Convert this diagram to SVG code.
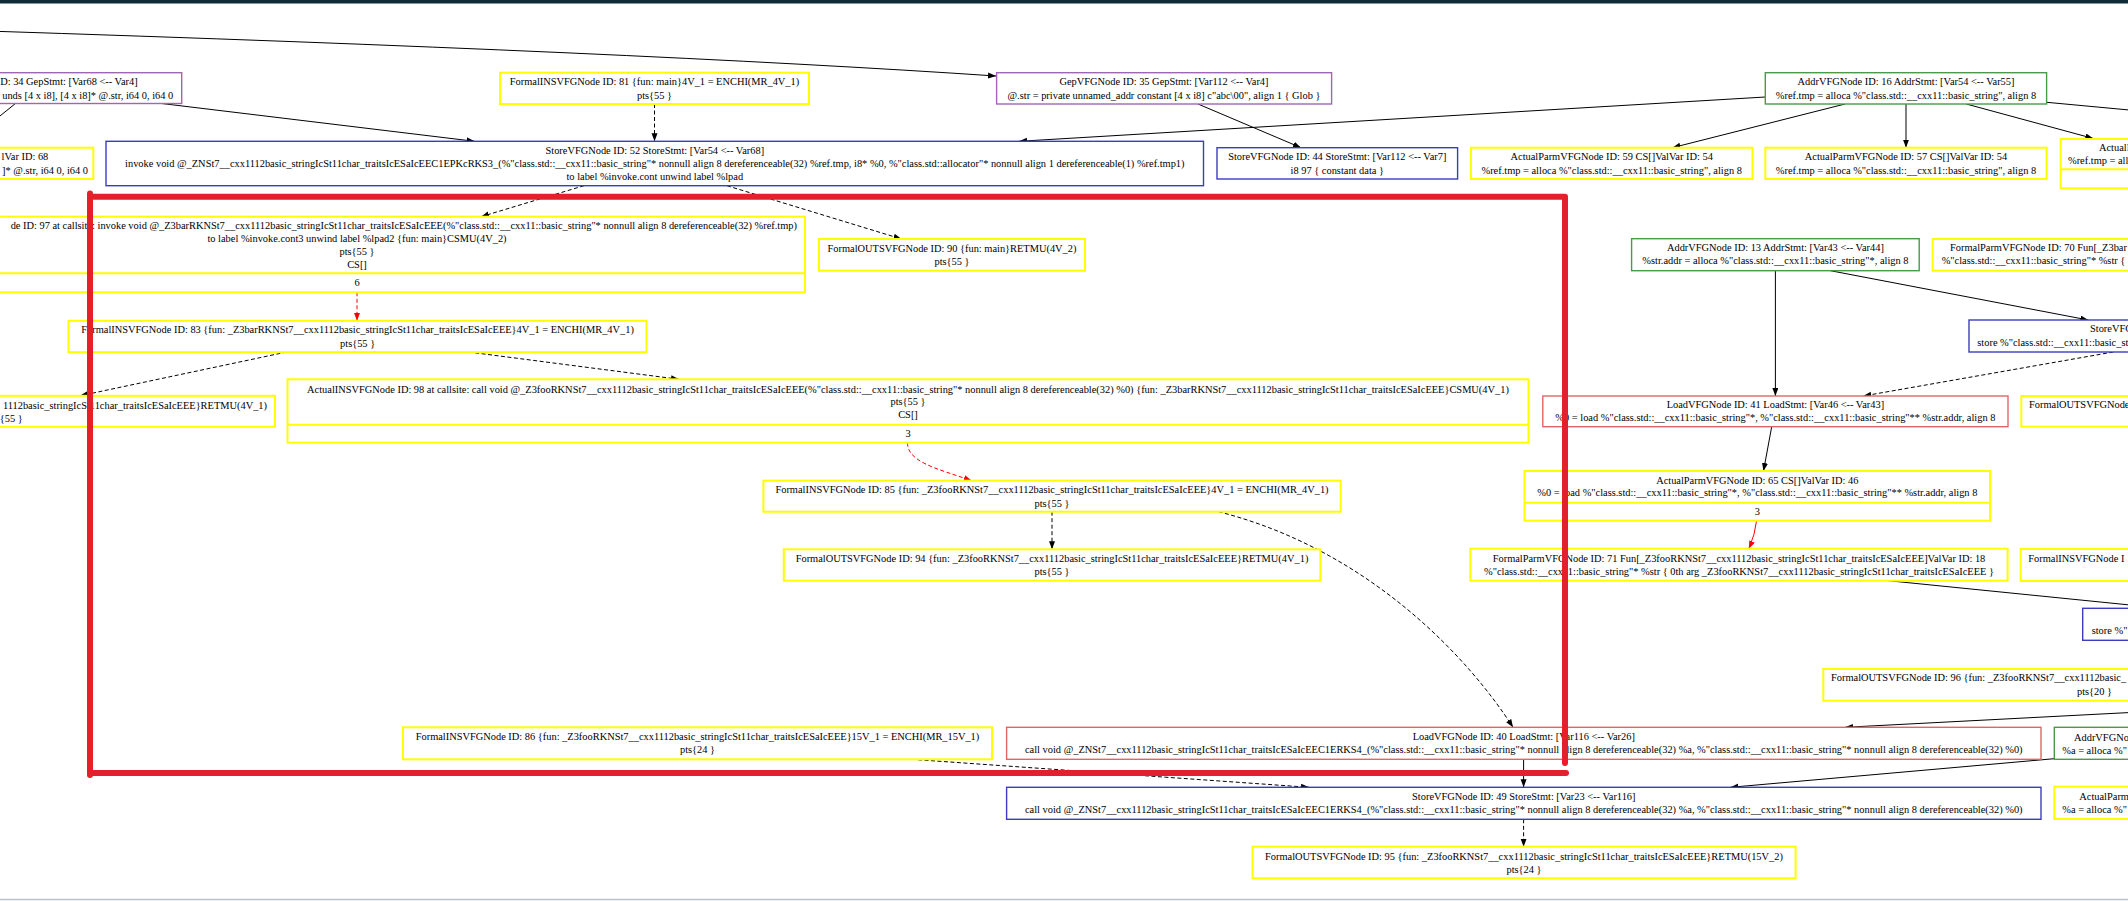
<svg xmlns="http://www.w3.org/2000/svg" width="2128" height="901" viewBox="0 0 2128 901">
<style>
text{font-family:"Liberation Serif","Times New Roman",serif;font-size:10.4px;fill:#000}
.m{text-anchor:middle}.e{text-anchor:end}
rect.y{stroke:#ffff00;stroke-width:2;fill:#fff}
rect.b{stroke:#3c3cc0;stroke-width:1.4;fill:#fff}
rect.p{stroke:#a065b5;stroke-width:1.4;fill:#fff}
rect.g{stroke:#4a9a4a;stroke-width:1.4;fill:#fff}
rect.r{stroke:#e06666;stroke-width:1.4;fill:#fff}
line.y{stroke:#ffff00;stroke-width:2}
.ed{stroke:#000;stroke-width:1;fill:none}
.da{stroke-dasharray:4,2.5}
.rd{stroke:#ff0000}
</style>
<defs>
<marker id="ak" markerUnits="userSpaceOnUse" markerWidth="9" markerHeight="7" refX="8" refY="3" orient="auto"><path d="M0,0 L8,3 L0,6 Z" fill="#000"/></marker>
<marker id="ar" markerUnits="userSpaceOnUse" markerWidth="9" markerHeight="7" refX="8" refY="3" orient="auto"><path d="M0,0 L8,3 L0,6 Z" fill="#ff0000"/></marker>
</defs>
<rect x="0" y="0" width="2128" height="901" fill="#fff"/>
<rect x="0" y="0" width="2128" height="3.5" fill="#0d2c37"/>
<line x1="0" y1="899.5" x2="2128" y2="899.5" stroke="#b8c4cc" stroke-width="1.5"/>

<g id="edges">
<path class="ed" d="M-20,30.8 Q640,52 996,76" marker-end="url(#ak)"/>
<path class="ed" d="M160,103.3 L474.5,141.3" marker-end="url(#ak)"/>
<path class="ed" d="M15.7,103.3 L-10,124"/>
<path class="ed da" d="M654.5,104 L654.5,141.3" marker-end="url(#ak)"/>
<path class="ed" d="M1198,104 L1301,147.7" marker-end="url(#ak)"/>
<path class="ed" d="M1765.3,97 L1019,141.3" marker-end="url(#ak)"/>
<path class="ed" d="M1845,104 L1672.4,147.7" marker-end="url(#ak)"/>
<path class="ed" d="M1906,104 L1906,147.7" marker-end="url(#ak)"/>
<path class="ed" d="M1966.3,104 L2093.3,138.5" marker-end="url(#ak)"/>
<path class="ed" d="M2046.7,102.3 L2140,111"/>
<path class="ed da" d="M584,185.7 L481,216.7" marker-end="url(#ak)"/>
<path class="ed da" d="M727,185.7 L901.5,239" marker-end="url(#ak)"/>
<path class="ed da rd" d="M357,292.3 L357,320.8" marker-end="url(#ar)"/>
<path class="ed da" d="M286.7,352 L80,395.8" marker-end="url(#ak)"/>
<path class="ed da" d="M468.7,352 L679,379.3" marker-end="url(#ak)"/>
<path class="ed da rd" d="M907.4,442.7 C908,462 935,468 971.7,480.7" marker-end="url(#ar)"/>
<path class="ed da" d="M1052,511.7 L1052,549.3" marker-end="url(#ak)"/>
<path class="ed da" d="M1218.5,511.7 C1370,550 1470,660 1513,727.3" marker-end="url(#ak)"/>
<path class="ed" d="M1523.6,759.3 L1523.6,787.3" marker-end="url(#ak)"/>
<path class="ed da" d="M1523.6,819.3 L1523.6,846.7" marker-end="url(#ak)"/>
<path class="ed da" d="M911.5,759.3 L1309,787.3" marker-end="url(#ak)"/>
<path class="ed" d="M2054.3,758.7 L1730.5,787.3" marker-end="url(#ak)"/>
<path class="ed" d="M2140,712 L1845,727.3" marker-end="url(#ak)"/>
<path class="ed" d="M1888.3,580.7 L2140,606"/>
<path class="ed" d="M1775.4,270.7 L1775.4,396" marker-end="url(#ak)"/>
<path class="ed" d="M1830.4,270.7 L2088.3,320" marker-end="url(#ak)"/>
<path class="ed da" d="M2113.3,352 L1863.3,396" marker-end="url(#ak)"/>
<path class="ed" d="M1771.7,426.7 L1763.5,471" marker-end="url(#ak)"/>
<path class="ed rd" d="M1756.6,520.7 Q1755,535 1748.8,548.7" marker-end="url(#ar)"/>
</g>

<g id="n34">
<rect class="p" x="-200" y="72.7" width="381.7" height="30.8"/>
<text class="e" x="137.7" y="85.2">D: 34 GepStmt: [Var68 &lt;-- Var4]</text>
<text class="e" x="173.3" y="98.5">unds [4 x i8], [4 x i8]* @.str, i64 0, i64 0</text>
</g>
<g id="n68">
<rect class="y" x="-200" y="147.7" width="293.3" height="31.3"/>
<text class="e" x="48.3" y="160.2">lVar ID: 68</text>
<text class="e" x="88" y="173.5">]* @.str, i64 0, i64 0</text>
</g>
<g id="n81">
<rect class="y" x="500" y="72.7" width="309" height="31.3"/>
<text class="m" x="654.5" y="85.2">FormalINSVFGNode ID: 81 {fun: main}4V_1 = ENCHI(MR_4V_1)</text>
<text class="m" x="654.5" y="98.5">pts{55 }</text>
</g>
<g id="n52">
<rect class="b" x="106" y="141.3" width="1097.5" height="44.4"/>
<text class="m" x="654.8" y="154.2">StoreVFGNode ID: 52 StoreStmt: [Var54 &lt;-- Var68]</text>
<text class="m" x="654.8" y="167.2">invoke void @_ZNSt7__cxx1112basic_stringIcSt11char_traitsIcESaIcEEC1EPKcRKS3_(%"class.std::__cxx11::basic_string"* nonnull align 8 dereferenceable(32) %ref.tmp, i8* %0, %"class.std::allocator"* nonnull align 1 dereferenceable(1) %ref.tmp1)</text>
<text class="m" x="654.8" y="179.5">to label %invoke.cont unwind label %lpad</text>
</g>
<g id="n35">
<rect class="p" x="996.6" y="72.7" width="335" height="31.3"/>
<text class="m" x="1164" y="85.2">GepVFGNode ID: 35 GepStmt: [Var112 &lt;-- Var4]</text>
<text class="m" x="1164" y="98.5">@.str = private unnamed_addr constant [4 x i8] c"abc\00", align 1 { Glob }</text>
</g>
<g id="n44">
<rect class="b" x="1217" y="147.7" width="240.6" height="31.3"/>
<text class="m" x="1337.3" y="160.2">StoreVFGNode ID: 44 StoreStmt: [Var112 &lt;-- Var7]</text>
<text class="m" x="1337.3" y="173.5">i8 97 { constant data }</text>
</g>
<g id="n16">
<rect class="g" x="1765.3" y="72.7" width="281.3" height="31.3"/>
<text class="m" x="1906" y="85.2">AddrVFGNode ID: 16 AddrStmt: [Var54 &lt;-- Var55]</text>
<text class="m" x="1906" y="98.5">%ref.tmp = alloca %"class.std::__cxx11::basic_string", align 8</text>
</g>
<g id="n59">
<rect class="y" x="1470.9" y="147.7" width="281.6" height="31.3"/>
<text class="m" x="1611.7" y="160.2">ActualParmVFGNode ID: 59 CS[]ValVar ID: 54</text>
<text class="m" x="1611.7" y="173.5">%ref.tmp = alloca %"class.std::__cxx11::basic_string", align 8</text>
</g>
<g id="n57">
<rect class="y" x="1765.3" y="147.7" width="281.3" height="31.3"/>
<text class="m" x="1906" y="160.2">ActualParmVFGNode ID: 57 CS[]ValVar ID: 54</text>
<text class="m" x="1906" y="173.5">%ref.tmp = alloca %"class.std::__cxx11::basic_string", align 8</text>
</g>
<g id="nActualRight">
<rect class="y" x="2060.7" y="139" width="200" height="49.3"/>
<line class="y" x1="2060.7" y1="169.3" x2="2260" y2="169.3"/>
<text x="2099" y="150.8">ActualP</text>
<text x="2068" y="164.2">%ref.tmp = all</text>
</g>
<g id="n97">
<rect class="y" x="-100" y="216.7" width="905" height="75.6"/>
<line class="y" x1="-100" y1="273.3" x2="805" y2="273.3"/>
<text class="e" x="797" y="229.2">de ID: 97 at callsite: invoke void @_Z3barRKNSt7__cxx1112basic_stringIcSt11char_traitsIcESaIcEEE(%"class.std::__cxx11::basic_string"* nonnull align 8 dereferenceable(32) %ref.tmp)</text>
<text class="m" x="357" y="242.2">to label %invoke.cont3 unwind label %lpad2 {fun: main}CSMU(4V_2)</text>
<text class="m" x="357" y="255.2">pts{55 }</text>
<text class="m" x="357" y="267.5">CS[]</text>
<text class="m" x="357" y="285.8">6</text>
</g>
<g id="n90">
<rect class="y" x="819" y="239" width="266" height="31.7"/>
<text class="m" x="952" y="251.5">FormalOUTSVFGNode ID: 90 {fun: main}RETMU(4V_2)</text>
<text class="m" x="952" y="264.8">pts{55 }</text>
</g>
<g id="n83">
<rect class="y" x="68.5" y="320.8" width="578" height="31.4"/>
<text class="m" x="357.6" y="333.3">FormalINSVFGNode ID: 83 {fun: _Z3barRKNSt7__cxx1112basic_stringIcSt11char_traitsIcESaIcEEE}4V_1 = ENCHI(MR_4V_1)</text>
<text class="m" x="357.6" y="346.6">pts{55 }</text>
</g>
<g id="nOutLeft">
<rect class="y" x="-300" y="395.8" width="575" height="31"/>
<text class="e" x="267" y="408.5">1112basic_stringIcSt11char_traitsIcESaIcEEE}RETMU(4V_1)</text>
<text class="e" x="22.7" y="421.5">{55 }</text>
</g>
<g id="n98">
<rect class="y" x="287.5" y="379.3" width="1241" height="63.4"/>
<line class="y" x1="287.5" y1="424.7" x2="1528.5" y2="424.7"/>
<text class="m" x="908" y="392.5">ActualINSVFGNode ID: 98 at callsite: call void @_Z3fooRKNSt7__cxx1112basic_stringIcSt11char_traitsIcESaIcEEE(%"class.std::__cxx11::basic_string"* nonnull align 8 dereferenceable(32) %0) {fun: _Z3barRKNSt7__cxx1112basic_stringIcSt11char_traitsIcESaIcEEE}CSMU(4V_1)</text>
<text class="m" x="908" y="405.2">pts{55 }</text>
<text class="m" x="908" y="417.5">CS[]</text>
<text class="m" x="908" y="436.8">3</text>
</g>
<g id="n85">
<rect class="y" x="763.4" y="480.7" width="577.3" height="31"/>
<text class="m" x="1052" y="493.2">FormalINSVFGNode ID: 85 {fun: _Z3fooRKNSt7__cxx1112basic_stringIcSt11char_traitsIcESaIcEEE}4V_1 = ENCHI(MR_4V_1)</text>
<text class="m" x="1052" y="506.5">pts{55 }</text>
</g>
<g id="n94">
<rect class="y" x="783.8" y="549.3" width="536.6" height="31.4"/>
<text class="m" x="1052" y="561.8">FormalOUTSVFGNode ID: 94 {fun: _Z3fooRKNSt7__cxx1112basic_stringIcSt11char_traitsIcESaIcEEE}RETMU(4V_1)</text>
<text class="m" x="1052" y="575.1">pts{55 }</text>
</g>
<g id="n40">
<rect class="r" x="1006.6" y="727.3" width="1034.4" height="32"/>
<text class="m" x="1523.8" y="740.2">LoadVFGNode ID: 40 LoadStmt: [Var116 &lt;-- Var26]</text>
<text class="m" x="1523.8" y="753">call void @_ZNSt7__cxx1112basic_stringIcSt11char_traitsIcESaIcEEC1ERKS4_(%"class.std::__cxx11::basic_string"* nonnull align 8 dereferenceable(32) %a, %"class.std::__cxx11::basic_string"* nonnull align 8 dereferenceable(32) %0)</text>
</g>
<g id="n49">
<rect class="b" x="1006.6" y="787.3" width="1034.4" height="32"/>
<text class="m" x="1523.8" y="800.2">StoreVFGNode ID: 49 StoreStmt: [Var23 &lt;-- Var116]</text>
<text class="m" x="1523.8" y="813">call void @_ZNSt7__cxx1112basic_stringIcSt11char_traitsIcESaIcEEC1ERKS4_(%"class.std::__cxx11::basic_string"* nonnull align 8 dereferenceable(32) %a, %"class.std::__cxx11::basic_string"* nonnull align 8 dereferenceable(32) %0)</text>
</g>
<g id="n95">
<rect class="y" x="1252.6" y="846.7" width="543" height="31.6"/>
<text class="m" x="1524" y="859.8">FormalOUTSVFGNode ID: 95 {fun: _Z3fooRKNSt7__cxx1112basic_stringIcSt11char_traitsIcESaIcEEE}RETMU(15V_2)</text>
<text class="m" x="1524" y="872.5">pts{24 }</text>
</g>
<g id="n86">
<rect class="y" x="403" y="727.3" width="589" height="32"/>
<text class="m" x="697.5" y="740.2">FormalINSVFGNode ID: 86 {fun: _Z3fooRKNSt7__cxx1112basic_stringIcSt11char_traitsIcESaIcEEE}15V_1 = ENCHI(MR_15V_1)</text>
<text class="m" x="697.5" y="753">pts{24 }</text>
</g>
<g id="nAddrRight">
<rect class="g" x="2054.3" y="727.3" width="200" height="32"/>
<text x="2074" y="740.8">AddrVFGNo</text>
<text x="2062.3" y="753.5">%a = alloca %"</text>
</g>
<g id="nActualBottomRight">
<rect class="y" x="2054.3" y="786.7" width="200" height="32.3"/>
<text x="2079.3" y="800.2">ActualParm</text>
<text x="2062.3" y="812.8">%a = alloca %"</text>
</g>
<g id="n96">
<rect class="y" x="1823.3" y="669" width="400" height="31.7"/>
<text x="1831" y="680.5">FormalOUTSVFGNode ID: 96 {fun: _Z3fooRKNSt7__cxx1112basic_</text>
<text class="m" x="2094.5" y="695">pts{20 }</text>
</g>
<g id="nStoreRight">
<rect class="b" x="2082.7" y="608.3" width="200" height="32"/>
<text x="2091.7" y="634">store %"</text>
</g>
<g id="n13">
<rect class="g" x="1631.6" y="238.7" width="287.6" height="32"/>
<text class="m" x="1775.4" y="251">AddrVFGNode ID: 13 AddrStmt: [Var43 &lt;-- Var44]</text>
<text class="m" x="1775.4" y="264.3">%str.addr = alloca %"class.std::__cxx11::basic_string"*, align 8</text>
</g>
<g id="n70">
<rect class="y" x="1932.7" y="239" width="300" height="31.7"/>
<text x="1950" y="250.6">FormalParmVFGNode ID: 70 Fun[_Z3bar</text>
<text x="1941.7" y="264.2">%"class.std::__cxx11::basic_string"* %str {</text>
</g>
<g id="nStoreMidRight">
<rect class="b" x="1969" y="320" width="200" height="32"/>
<text x="2090" y="331.8">StoreVFG</text>
<text x="1977.3" y="346.2">store %"class.std::__cxx11::basic_st</text>
</g>
<g id="n41">
<rect class="r" x="1542.8" y="396" width="465.2" height="30.7"/>
<text class="m" x="1775.4" y="407.8">LoadVFGNode ID: 41 LoadStmt: [Var46 &lt;-- Var43]</text>
<text class="m" x="1775.4" y="420.8">%0 = load %"class.std::__cxx11::basic_string"*, %"class.std::__cxx11::basic_string"** %str.addr, align 8</text>
</g>
<g id="nOutMidRight">
<rect class="y" x="2021.3" y="396" width="200" height="30.7"/>
<text x="2029" y="407.8">FormalOUTSVFGNode</text>
</g>
<g id="n65">
<rect class="y" x="1524.5" y="471" width="465.5" height="49.7"/>
<line class="y" x1="1524.5" y1="502.7" x2="1990" y2="502.7"/>
<text class="m" x="1757.3" y="483.8">ActualParmVFGNode ID: 65 CS[]ValVar ID: 46</text>
<text class="m" x="1757.3" y="495.8">%0 = load %"class.std::__cxx11::basic_string"*, %"class.std::__cxx11::basic_string"** %str.addr, align 8</text>
<text class="m" x="1757.3" y="514.5">3</text>
</g>
<g id="n71">
<rect class="y" x="1470.4" y="548.7" width="537.2" height="32"/>
<text class="m" x="1739" y="561.8">FormalParmVFGNode ID: 71 Fun[_Z3fooRKNSt7__cxx1112basic_stringIcSt11char_traitsIcESaIcEEE]ValVar ID: 18</text>
<text class="m" x="1739" y="575.2">%"class.std::__cxx11::basic_string"* %str { 0th arg _Z3fooRKNSt7__cxx1112basic_stringIcSt11char_traitsIcESaIcEEE }</text>
</g>
<g id="nINRight">
<rect class="y" x="2020.7" y="549" width="200" height="32"/>
<text x="2028.3" y="561.8">FormalINSVFGNode I</text>
</g>

<g id="highlight">
<path d="M90,193.5 L90,775 M90,773 L1566,773 M90,196.7 L1565,196.7 L1565,763" fill="none" stroke="#e4202a" stroke-width="6" stroke-linecap="round" stroke-linejoin="round"/>
</g>
</svg>
